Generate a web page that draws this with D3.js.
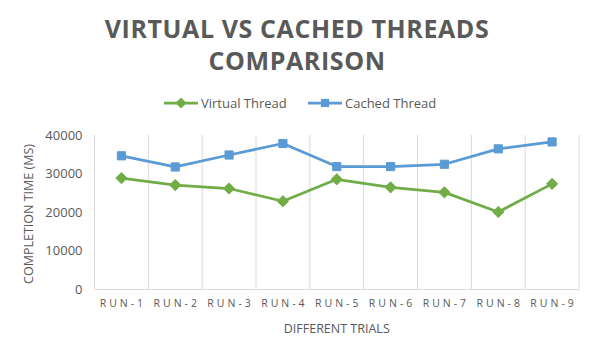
<!DOCTYPE html>
<html>
<head>
<meta charset="utf-8">
<script src="https://cdn.jsdelivr.net/npm/d3@7"></script>
<style>
  body { margin: 0; background: #fff; }
  text { font-family: "Open Sans", sans-serif; fill: #595959; }
</style>
</head>
<body>
<div id="chart"></div>
<script>
// Chart data
const runs = ["RUN-1", "RUN-2", "RUN-3", "RUN-4", "RUN-5", "RUN-6", "RUN-7", "RUN-8", "RUN-9"];
const virtualTimes = [28800, 27000, 26100, 22800, 28500, 26400, 25100, 20000, 27300];
const cachedTimes = [34600, 31700, 34800, 37800, 31800, 31800, 32400, 36400, 38200];
const yTicks = [0, 10000, 20000, 30000, 40000];

const width = 595, height = 344;
const margin = { top: 135, right: 16, bottom: 55, left: 94.5 };

const series = [
    { name: "Virtual Thread", values: virtualTimes, color: "#70ad47", marker: "diamond" },
    { name: "Cached Thread", values: cachedTimes, color: "#5b9bd5", marker: "square" }
];

const svg = d3.select("#chart").append("svg")
    .attr("width", width)
    .attr("height", height);

// Title (two lines)
const title = svg.append("text")
    .attr("text-anchor", "middle")
    .style("font-size", "25px")
    .style("font-weight", "bold")
    .style("letter-spacing", "0.6px");
title.append("tspan").attr("x", 297).attr("y", 38).text("VIRTUAL VS CACHED THREADS");
title.append("tspan").attr("x", 297).attr("y", 70).text("COMPARISON");

// Scales
const x = d3.scaleBand()
    .domain(runs)
    .range([margin.left, width - margin.right])
    .padding(0);
const y = d3.scaleLinear()
    .domain([0, 40000])
    .range([height - margin.bottom, margin.top]);

// Vertical gridlines at category boundaries
const bounds = runs.map(r => x(r)).concat([x.range()[1]]);
svg.append("g")
    .selectAll("line")
    .data(bounds)
    .join("line")
    .attr("x1", d => d).attr("x2", d => d)
    .attr("y1", y(40000)).attr("y2", y(0))
    .attr("stroke", "#d9d9d9")
    .attr("stroke-width", 1);

// X axis
const xAxis = svg.append("g")
    .attr("transform", `translate(0,${y(0)})`)
    .call(d3.axisBottom(x).tickSize(0).tickPadding(11));
xAxis.select(".domain").attr("stroke", "#d9d9d9");
xAxis.selectAll("text")
    .style("font-size", "10.5px")
    .style("letter-spacing", "3px")
    .attr("dx", "1.5px")
    .style("fill", "#595959");

// Y axis
const yAxis = svg.append("g")
    .attr("transform", `translate(${margin.left},0)`)
    .call(d3.axisLeft(y).tickValues(yTicks).tickSize(0).tickPadding(12).tickFormat(d3.format("d")));
yAxis.select(".domain").remove();
yAxis.selectAll("text")
    .style("font-size", "13px")
    .style("fill", "#595959");

// Axis titles
svg.append("text")
    .attr("text-anchor", "middle")
    .attr("x", (x.range()[0] + x.range()[1]) / 2)
    .attr("y", 333)
    .style("font-size", "12.5px")
    .text("DIFFERENT TRIALS");

svg.append("text")
    .attr("text-anchor", "middle")
    .attr("transform", "translate(33,214) rotate(-90)")
    .style("font-size", "12.5px")
    .text("COMPLETION TIME (MS)");

// Lines and markers
const line = d3.line()
    .x((d, i) => x(runs[i]) + x.bandwidth() / 2)
    .y(d => y(d));

const symbolFor = m => m === "diamond"
    ? d3.symbol().type(d3.symbolDiamond2).size(80)
    : d3.symbol().type(d3.symbolSquare2).size(85);

series.forEach(s => {
    svg.append("path")
        .datum(s.values)
        .attr("fill", "none")
        .attr("stroke", s.color)
        .attr("stroke-width", 2.75)
        .attr("stroke-linejoin", "round")
        .attr("d", line);

    svg.append("g")
        .selectAll("path")
        .data(s.values)
        .join("path")
        .attr("transform", (d, i) => `translate(${x(runs[i]) + x.bandwidth() / 2},${y(d)})`)
        .attr("d", symbolFor(s.marker)())
        .attr("fill", s.color)
        .attr("stroke", s.color)
        .attr("stroke-width", 1);
});

// Legend
const legendItems = [
    { s: series[0], x: 164 },
    { s: series[1], x: 308 }
];
const legend = svg.append("g").attr("transform", "translate(0,103)");
legendItems.forEach(({ s, x: lx }) => {
    legend.append("line")
        .attr("x1", lx).attr("x2", lx + 34)
        .attr("y1", 0).attr("y2", 0)
        .attr("stroke", s.color)
        .attr("stroke-width", 2.75);
    legend.append("path")
        .attr("transform", `translate(${lx + 17},0)`)
        .attr("d", symbolFor(s.marker)())
        .attr("fill", s.color);
    legend.append("text")
        .attr("x", lx + 37)
        .attr("y", 0)
        .attr("dy", "0.35em")
        .style("font-size", "13px")
        .text(s.name);
});
</script>
</body>
</html>
